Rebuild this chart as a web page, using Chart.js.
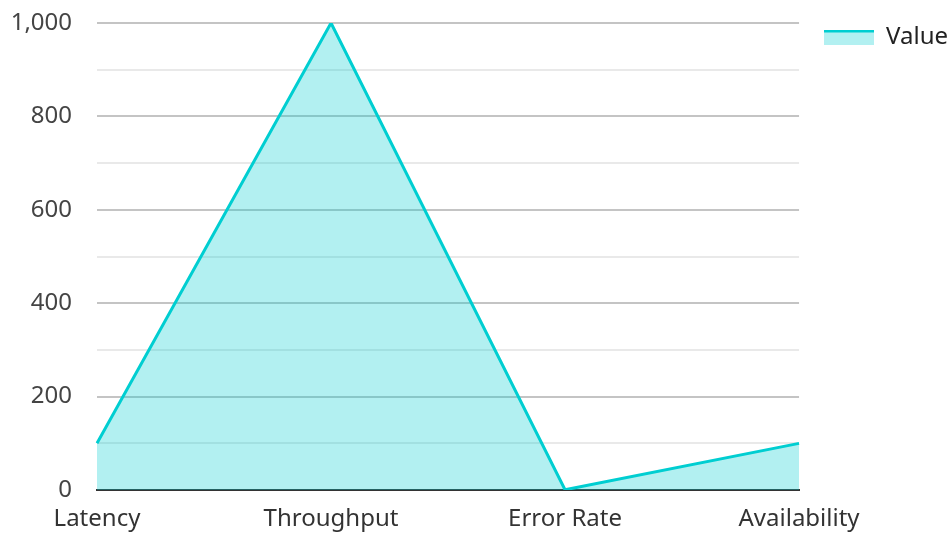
<!DOCTYPE html>
<html>
<head>
<meta charset="utf-8">
<script src="https://cdn.jsdelivr.net/npm/chart.js@4/dist/chart.umd.min.js"></script>
<style>
  html, body { margin: 0; padding: 0; background: #fff; }
  #wrap { width: 949px; height: 533px; position: relative; }
</style>
</head>
<body>
<div id="wrap"><canvas id="c"></canvas></div>
<script>
const categories = ['Latency', 'Throughput', 'Error Rate', 'Availability'];
const seriesName = 'Value';
const values = [100, 1000, 0.5, 99.9];
const yMin = 0;
const yMax = 1000;
const yStep = 100;
const yLabelStep = 200;

const LINE = '#00CED1';
const FILL = 'rgba(0,206,209,0.3)';

// legend swatch: line on top, fill below
const sw = document.createElement('canvas');
sw.width = 50; sw.height = 15;
(function () {
  const g = sw.getContext('2d');
  g.fillStyle = FILL;
  g.fillRect(0, 2, 50, 13);
  g.fillStyle = LINE;
  g.fillRect(0, 0, 50, 3);
})();

Chart.defaults.font.family = "'Noto Sans', sans-serif";

new Chart(document.getElementById('c'), {
  type: 'line',
  data: {
    labels: categories,
    datasets: [{
      label: seriesName,
      data: values,
      borderColor: LINE,
      backgroundColor: FILL,
      borderWidth: 3,
      fill: 'origin',
      tension: 0,
      pointRadius: 0,
      pointHoverRadius: 0,
      pointStyle: sw
    }]
  },
  options: {
    responsive: true,
    maintainAspectRatio: false,
    animation: false,
    layout: { padding: { top: 0, right: -9, left: 0, bottom: 0 } },
    plugins: {
      tooltip: { enabled: false },
      legend: {
        position: 'right',
        align: 'start',
        labels: {
          usePointStyle: true,
          pointStyleWidth: 50,
          boxHeight: 15,
          padding: 25,
          color: '#222',
          font: { size: 24 }
        }
      }
    },
    scales: {
      x: {
        offset: false,
        grid: { display: false, drawTicks: false },
        border: { display: true, color: '#333', width: 2 },
        ticks: { color: '#333', font: { size: 24 }, padding: 15, maxRotation: 0, autoSkip: false },
        afterFit: (s) => { s.paddingRight = 0; s.paddingLeft = 0; s.height = 43; }
      },
      y: {
        min: yMin,
        max: yMax,
        grid: {
          drawTicks: false,
          lineWidth: 2,
          color: (ctx) => {
            const v = ctx.tick ? ctx.tick.value : 0;
            if (v === 0) return 'rgba(0,0,0,0)';
            return (v % yLabelStep === 0) ? '#c4c4c4' : '#e9e9e9';
          }
        },
        border: { display: false },
        ticks: {
          stepSize: yStep,
          color: '#444',
          font: { size: 24 },
          padding: 25,
          callback: (v) => (v % yLabelStep === 0 ? v.toLocaleString('en-US') : '')
        },
        afterFit: (s) => { s.width = 97; s.paddingTop = 23; s.paddingBottom = 0; }
      }
    }
  }
});
</script>
</body>
</html>
